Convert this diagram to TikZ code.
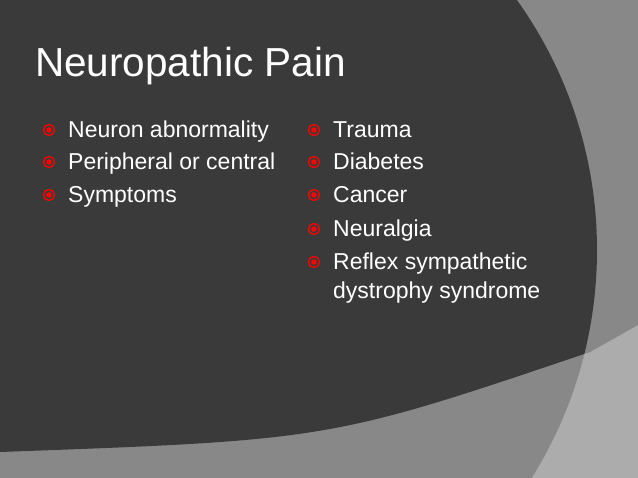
\documentclass[tikz,border=0pt]{standalone}
\usepackage{fontspec}
\setmainfont{Liberation Sans}
\begin{document}
\begin{tikzpicture}[x=1pt,y=-1pt,
  txt/.style={anchor=base west,text=white,inner sep=0pt,font=\fontsize{23}{33}\selectfont},
  ring/.style={draw=red,line width=1.3pt},
  dot/.style={fill=red}]
\useasboundingbox (0,0) rectangle (638,478);
\definecolor{dk}{HTML}{3A3A3A}
\definecolor{md}{HTML}{888888}
\definecolor{lt}{HTML}{ACACAC}
\fill[lt] (0,0) rectangle (638,478);
\fill[md] (0,0) -- (638,0) -- (638,325) -- (590,352) .. controls (330,440) .. (0,452) -- cycle;
\fill[md] (167,250) circle (430);
\begin{scope}
\clip (0,0) -- (638,0) -- (638,325) -- (590,352) .. controls (330,440) .. (0,452) -- cycle;
\fill[dk] (167,250) circle (430);
\end{scope}
\node[anchor=base west,text=white,inner sep=0pt,font=\fontsize{40.5}{42}\selectfont] (title) at (35,77) {Neuropathic Pain};
\foreach \t/\y [count=\i] in {Neuron abnormality/130,Peripheral or central/162,Symptoms/195}{
  \draw[ring] (49,\y) circle (5.5);
  \fill[dot] (49,\y) circle (2.8);
  \node[txt] (l\i) at (68,\y+8) {\t};
}
\foreach \t/\y [count=\i] in {Trauma/130,Diabetes/162,Cancer/195,Neuralgia/229,Reflex sympathetic/262}{
  \draw[ring] (314,\y) circle (5.5);
  \fill[dot] (314,\y) circle (2.8);
  \node[txt] (r\i) at (333,\y+8) {\t};
}
\node[txt] (r6) at (333,299) {dystrophy syndrome};
\end{tikzpicture}
\end{document}
